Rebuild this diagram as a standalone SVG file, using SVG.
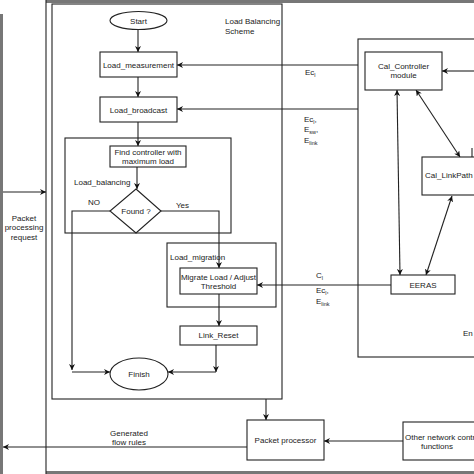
<svg xmlns="http://www.w3.org/2000/svg" width="474" height="474" viewBox="0 0 474 474">
<defs>
<marker id="ah" viewBox="0 0 10 10" refX="10" refY="5" markerWidth="6" markerHeight="6" orient="auto-start-reverse" markerUnits="userSpaceOnUse">
<path d="M0,0 L10,5 L0,10 L3,5 Z" fill="#111"/>
</marker>
<style>
.b{fill:#fff;stroke:#222;stroke-width:1.1}
.c{fill:none;stroke:#222;stroke-width:1.1}
.a{fill:none;stroke:#222;stroke-width:1.1;marker-end:url(#ah)}
.d{fill:none;stroke:#222;stroke-width:1.1;marker-end:url(#ah);marker-start:url(#ah)}
.g{fill:none;stroke:#777;stroke-width:3}
text{font-family:"Liberation Sans",Arial,sans-serif;font-size:8px;fill:#222}
.m{text-anchor:middle}
.s{font-size:5.5px}
</style>
</defs>
<rect width="474" height="474" fill="#fff"/>
<g id="frame">
<line class="g" x1="46" y1="1.5" x2="474" y2="1.5"/>
<line class="g" x1="1.5" y1="14" x2="1.5" y2="474"/>
<line class="g" x1="46" y1="472.5" x2="474" y2="472.5"/>
<line class="c" x1="46" y1="0" x2="46" y2="474"/>
</g>
<g id="lbs">
<rect class="c" x="52" y="4" width="230" height="395"/>
<text x="225" y="24">Load Balancing</text>
<text x="225" y="34">Scheme</text>
</g>
<g id="energy">
<rect class="c" x="358" y="39" width="130" height="318"/>
<text x="463" y="336">En</text>
</g>
<g id="lbbox">
<rect class="c" x="65" y="138" width="166" height="95"/>
<text x="74" y="185">Load_balancing</text>
</g>
<g id="lmbox">
<rect class="c" x="167" y="243" width="109" height="64"/>
<text x="170" y="260">Load_migration</text>
</g>
<g id="connectors">
<line class="a" x1="138" y1="29" x2="138" y2="52"/>
<line class="a" x1="138" y1="77" x2="138" y2="97"/>
<line class="a" x1="138" y1="122" x2="138" y2="146"/>
<line class="a" x1="137" y1="167" x2="137" y2="189"/>
<polyline class="a" points="110,211 72,211 72,370"/>
<line class="a" x1="72" y1="372" x2="110" y2="372"/>
<polyline class="a" points="161,211 219,211 219,268"/>
<line class="a" x1="219" y1="294" x2="219" y2="326"/>
<line class="a" x1="216" y1="345" x2="216" y2="372"/>
<line class="a" x1="216" y1="372" x2="168" y2="372"/>
<line class="a" x1="266" y1="399" x2="266" y2="420"/>
<line class="a" x1="403" y1="441" x2="324" y2="441"/>
<line class="a" x1="247" y1="447" x2="3" y2="447"/>
<line class="a" x1="3" y1="192" x2="46" y2="192"/>
<line class="a" x1="358" y1="65" x2="177" y2="65"/>
<line class="a" x1="358" y1="109" x2="177" y2="109"/>
<line class="a" x1="391" y1="285" x2="257" y2="285"/>
<line class="a" x1="474" y1="71" x2="442" y2="71"/>
<line class="d" x1="397" y1="90" x2="400" y2="275"/>
<line class="d" x1="416" y1="90" x2="460" y2="157"/>
<line class="d" x1="452" y1="196" x2="426" y2="275"/>
<line class="c" x1="472" y1="148" x2="472" y2="157"/>
<text x="24" y="221" class="m">Packet</text>
<text x="24" y="230" class="m">processing</text>
<text x="24" y="240" class="m">request</text>
<text x="129" y="436" class="m">Generated</text>
<text x="129" y="445" class="m">flow rules</text>
<text x="88" y="205">NO</text>
<text x="176" y="208">Yes</text>
<text x="305" y="75">Ec<tspan class="s" dy="2">l</tspan></text>
<text x="304" y="122">Ec<tspan class="s" dy="2">l</tspan><tspan dy="-2">,</tspan></text>
<text x="304" y="132">E<tspan class="s" dy="2">sw</tspan><tspan dy="-2">,</tspan></text>
<text x="304" y="143">E<tspan class="s" dy="2">link</tspan></text>
<text x="316" y="278">C<tspan class="s" dy="2">l</tspan></text>
<text x="316" y="293">Ec<tspan class="s" dy="2">l</tspan><tspan dy="-2">,</tspan></text>
<text x="316" y="304">E<tspan class="s" dy="2">link</tspan></text>
</g>
<g id="start">
<ellipse class="b" cx="138.5" cy="20.5" rx="28.5" ry="9"/>
<text x="138.5" y="23.5" class="m">Start</text>
</g>
<g id="load_measurement">
<rect class="b" x="100" y="52" width="77" height="25"/>
<text x="138.5" y="67.5" class="m">Load_measurement</text>
</g>
<g id="load_broadcast">
<rect class="b" x="100" y="97" width="77" height="25"/>
<text x="138.5" y="112.5" class="m">Load_broadcast</text>
</g>
<g id="find">
<rect class="b" x="110" y="146" width="76" height="21"/>
<text x="148" y="155" class="m">Find controller with</text>
<text x="148" y="164" class="m">maximum load</text>
</g>
<g id="found">
<polygon class="b" points="136,189 161,211 136,233 110,211"/>
<text x="136" y="214" class="m">Found ?</text>
</g>
<g id="migrate">
<rect class="b" x="180" y="268" width="77" height="26"/>
<text x="218.5" y="280" class="m">Migrate Load / Adjust</text>
<text x="218.5" y="289" class="m">Threshold</text>
</g>
<g id="link_reset">
<rect class="b" x="180" y="326" width="77" height="19"/>
<text x="218.5" y="338" class="m">Link_Reset</text>
</g>
<g id="finish">
<ellipse class="b" cx="139" cy="374" rx="29" ry="16"/>
<text x="139" y="377" class="m">Finish</text>
</g>
<g id="packet_processor">
<rect class="b" x="247" y="420" width="77" height="40"/>
<text x="285.5" y="443" class="m">Packet processor</text>
</g>
<g id="other">
<rect class="b" x="403" y="422" width="80" height="38"/>
<text x="405" y="440">Other network control</text>
<text x="437" y="449" class="m">functions</text>
</g>
<g id="cal_controller">
<rect class="b" x="365" y="52" width="77" height="38"/>
<text x="403.5" y="69" class="m">Cal_Controller</text>
<text x="403.5" y="78" class="m">module</text>
</g>
<g id="cal_linkpath">
<rect class="b" x="422" y="157" width="70" height="38"/>
<text x="425" y="178">Cal_LinkPath</text>
</g>
<g id="eeras">
<rect class="b" x="391" y="275" width="64" height="19"/>
<text x="423" y="288" class="m">EERAS</text>
</g>
</svg>
